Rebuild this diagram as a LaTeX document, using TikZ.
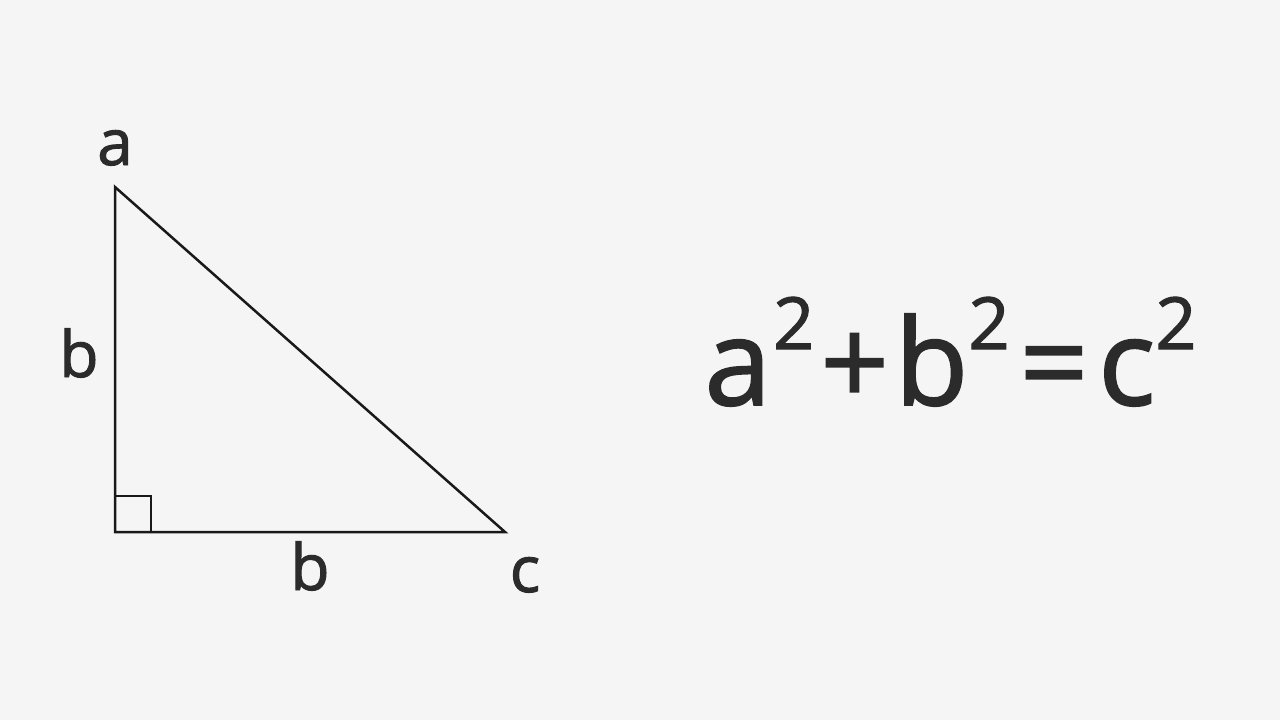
\documentclass[tikz,border=0pt]{standalone}
\usepackage{fontspec}
\setmainfont[FakeBold=1.5]{Open Sans}
\newfontfamily\eqfont[FakeBold=1.5]{Open Sans}
\definecolor{bg}{HTML}{F5F5F5}
\definecolor{ink}{HTML}{2B2B2B}
\begin{document}
\begin{tikzpicture}[x=0.5pt,y=-0.5pt,
    lbl/.style={text=ink,inner sep=0pt,anchor=base,font=\eqfont\fontsize{32}{32}\selectfont},
    side/.style={draw=black!90,line width=1.25pt,line join=miter},
    eqn/.style={text=ink,inner sep=0pt,anchor=base west,font=\eqfont\fontsize{60}{60}\selectfont}]

    \fill[bg] (0,0) rectangle (1280,720);
    \useasboundingbox (0,0) rectangle (1280,720);

    % the triangle

    \coordinate (a) at (115,187);
    \coordinate (o) at (115,532);
    \coordinate (c) at (505,532);
    \draw[side] (a) -- (o) -- (c) -- cycle;
    \draw[side] ([yshift=18pt]o) -| ([xshift=18pt]o);

    % the texts

    \node[lbl] (la) at (115,165) {a};
    \node[lbl] (lb) at (79,377) {b};
    \node[lbl] (lbb) at (310,590) {b};
    \node[lbl] (lc) at (525,592) {c};

    \newcommand\sq{\raisebox{28pt}{\fontsize{36}{36}\selectfont 2}}
    \node[eqn] (eq) at (704,405)
      {a\kern1pt\sq\kern3pt+\kern3pt b\kern0pt\sq\kern5pt=\kern5pt c\kern0pt\sq};
\end{tikzpicture}
\end{document}
